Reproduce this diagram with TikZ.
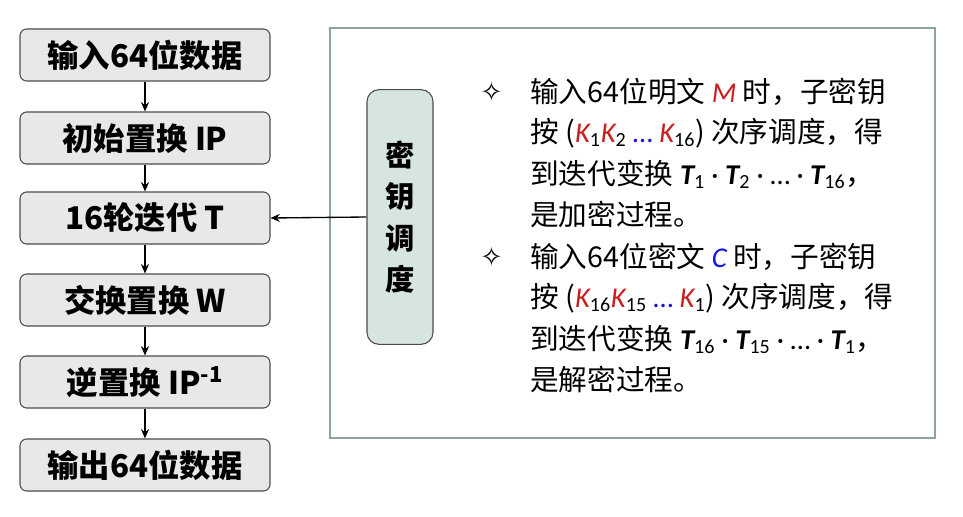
\documentclass[tikz,border=0pt]{standalone}
\usepackage{fontspec}
\setmainfont{Noto Sans CJK SC}
\newfontfamily\lat{Carlito}
\newfontfamily\djfont{DejaVu Sans}
\usetikzlibrary{arrows.meta}
\definecolor{kred}{RGB}{200,30,30}
\definecolor{kblue}{RGB}{20,20,230}
\tikzset{x=0.75pt,y=-0.75pt,
 flow/.style={draw=black!70,line width=0.8pt,fill=black!9,rounded corners=5pt,minimum width=187.5pt,minimum height=39pt,font=\fontsize{23.5}{26}\selectfont\bfseries},
 arr/.style={-{Stealth[length=7pt,width=6pt]},line width=1pt},
 txt/.style={anchor=west,inner sep=0pt,font=\fontsize{21.5}{25}\selectfont},
 dia/.style={anchor=west,inner sep=0pt,font=\djfont\fontsize{20}{22}\selectfont}}
\newcommand{\K}[1]{\textcolor{kred}{\lat\itshape K}\textsubscript{\lat #1}}
\newcommand{\T}[1]{{\lat\bfseries\itshape T}\textsubscript{\lat #1}}
\newcommand{\dts}{\textcolor{kblue}{\lat …}}
\begin{document}
\begin{tikzpicture}
\path[use as bounding box] (0,0) rectangle (963,517);
\node[flow] (a) at (145,55) {输入64位数据};
\node[flow] (b) at (145,138) {初始置换 IP};
\node[flow] (c) at (145,218) {16轮迭代 T};
\node[flow] (d) at (145,300) {交换置换 W};
\node[flow] (e) at (145,382) {逆置换 IP\textsuperscript{-1}};
\node[flow] (f) at (145,465) {输出64位数据};
\foreach \u/\v in {a/b,b/c,c/d,d/e,e/f} \draw[arr] (\u) -- (\v);
\draw[draw={rgb,255:red,140;green,165;blue,150},line width=1pt] (330,28) rectangle (935,438);
\node[draw=black!70,line width=0.8pt,fill={rgb,255:red,214;green,229;blue,222},rounded corners=9pt,minimum width=49.5pt,minimum height=191pt,font=\fontsize{22}{31}\selectfont\bfseries,align=center] (k) at (400,217) {密\\钥\\调\\度};
\draw[arr] (k.west) -- (c.east);
\node[dia] (d1) at (480,92) {✧};
\node[txt] (l1) at (530,92) {输入64位明文 \textcolor{kred}{\lat\itshape M} 时，子密钥};
\node[txt] (l2) at (530,133) {按 ({\lat\K1\K2 \dts{} \K{16}}) 次序调度，得};
\node[txt] (l3) at (530,174) {到迭代变换 \T1 {\lat·} \T2 {\lat· … ·} \T{16}，};
\node[txt] (l4) at (530,214) {是加密过程。};
\node[dia] (d2) at (480,257) {✧};
\node[txt] (l5) at (530,257) {输入64位密文 \textcolor{kblue}{\lat\itshape C} 时，子密钥};
\node[txt] (l6) at (530,298) {按 ({\lat\K{16}\K{15} \dts{} \K1}) 次序调度，得};
\node[txt] (l7) at (530,339) {到迭代变换 \T{16} {\lat·} \T{15} {\lat· … ·} \T1，};
\node[txt] (l8) at (530,380) {是解密过程。};
\end{tikzpicture}
\end{document}
